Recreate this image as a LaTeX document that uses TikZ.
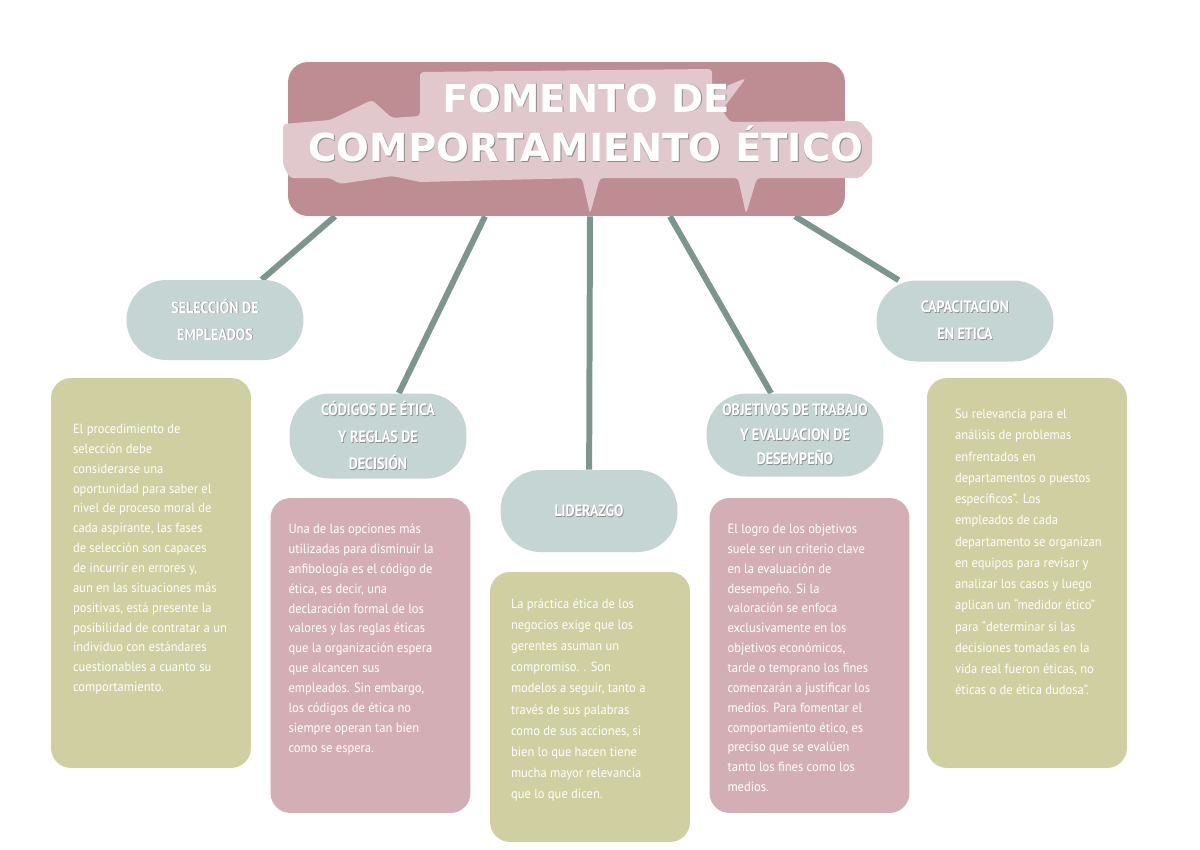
\documentclass[tikz,border=0pt]{standalone}
\usepackage{fontspec}
\setmainfont[FakeStretch=0.94]{PT Sans}
\newfontfamily\titlefont{DejaVu Sans}
\newfontfamily\labelfont[FakeStretch=0.86]{PT Sans}
\usetikzlibrary{positioning,backgrounds}
\definecolor{titlecol}{RGB}{190,140,147}
\definecolor{burstcol}{RGB}{225,200,204}
\definecolor{pillcol}{RGB}{197,213,212}
\definecolor{greencol}{RGB}{207,207,161}
\definecolor{pinkcol}{RGB}{211,175,181}
\definecolor{linecol}{RGB}{125,150,140}
\newcommand\sombra[1]{\leavevmode\rlap{\kern0.4pt\raisebox{-0.4pt}{\color{black!45}#1}}#1}
\tikzset{
	pill/.style={fill=pillcol,rounded corners=0.8cm,minimum width=3.54cm,minimum height=1.6cm,
		inner sep=0pt,align=center,text=white,font=\labelfont\bfseries\fontsize{9.3}{15.5}\selectfont},
	greenbox/.style={fill=greencol,rounded corners=0.4cm,minimum width=4cm,minimum height=7.8cm},
	pinkbox/.style={fill=pinkcol,rounded corners=0.4cm,minimum width=4cm,minimum height=6.3cm},
	bodytext/.style={text=white,align=left,inner sep=0pt,font=\fontsize{7.6}{11.3}\selectfont},
	conector/.style={linecol,line width=3.4pt}
}
\begin{document}
\begin{tikzpicture}[x=0.02cm,y=-0.02cm]
	\useasboundingbox (0,0) rectangle (1200,849);
	% title
	\node[fill=titlecol,rounded corners=0.4cm,minimum width=11.14cm,minimum height=3.08cm] (titulo) at (566.5,139) {};
	\fill[burstcol,rounded corners=2pt] (283,124)--(330,120)--(372,100)--(392,118)--(420,116)--(420,72)--(712,69)--(712,92)--(746,78)--(722,110)--(730,122)--(860,121)--(872,135)--(872,165)--(860,178)--(757,178)--(746,214)--(738,178)--(600,178)--(590,214)--(582,178)--(420,182)--(392,176)--(340,184)--(330,178)--(290,178)--(283,165)--cycle;
	\node[text=white,align=center,font=\titlefont\bfseries\fontsize{22}{28}\selectfont] (titulotxt) at (586,123)
	{\sombra{FOMENTO DE}\\\sombra{COMPORTAMIENTO ÉTICO}};
	% branches
	\node[pill] (sel) at (215,320) {\sombra{SELECCIÓN DE}\\\sombra{EMPLEADOS}};
	\node[pill,minimum height=1.7cm] (cod) at (378,436) {\sombra{CÓDIGOS DE ÉTICA}\\\sombra{Y REGLAS DE}\\\sombra{DECISIÓN}};
	\node[pill,minimum height=1.64cm] (lid) at (589,511) {\sombra{LIDERAZGO}};
	\node[pill,font=\labelfont\bfseries\fontsize{9.3}{14}\selectfont,minimum height=1.66cm] (obj) at (795,435) {\sombra{OBJETIVOS DE TRABAJO}\\\sombra{Y EVALUACION DE}\\\sombra{DESEMPEÑO}};
	\node[pill,minimum height=1.62cm] (cap) at (965,321) {\sombra{CAPACITACION}\\\sombra{EN ETICA}};
	% boxes
	\node[greenbox] (boxsel) at (151,573) {};
	\node[pinkbox] (boxcod) at (370.5,655.5) {};
	\node[greenbox,minimum height=5.4cm] (boxlid) at (590,707) {};
	\node[pinkbox] (boxobj) at (809.5,655.5) {};
	\node[greenbox] (boxcap) at (1027,573) {};
	\node[bodytext,below right=0.92cm and 0.44cm of boxsel.north west] (txtsel) {El procedimiento de\\selección debe\\considerarse una\\oportunidad para saber el\\nivel de proceso moral de\\cada aspirante, las fases\\de selección son capaces\\de incurrir en errores y,\\aun en las situaciones más\\positivas, está presente la\\posibilidad de contratar a un\\individuo con estándares\\cuestionables a cuanto su\\comportamiento.};
	\node[bodytext,below right=0.52cm and 0.36cm of boxcod.north west] (txtcod) {Una de las opciones más\\utilizadas para disminuir la\\anfibología es el código de\\ética, es decir, una\\declaración formal de los\\valores y las reglas éticas\\que la organización espera\\que alcancen sus\\empleados. Sin embargo,\\los códigos de ética no\\siempre operan tan bien\\como se espera.};
	\node[bodytext,below right=0.54cm and 0.42cm of boxlid.north west,font=\fontsize{7.6}{12}\selectfont] (txtlid) {La práctica ética de los\\negocios exige que los\\gerentes asuman un\\compromiso. . Son\\modelos a seguir, tanto a\\través de sus palabras\\como de sus acciones, si\\bien lo que hacen tiene\\mucha mayor relevancia\\que lo que dicen.};
	\node[bodytext,below right=0.52cm and 0.36cm of boxobj.north west] (txtobj) {El logro de los objetivos\\suele ser un criterio clave\\en la evaluación de\\desempeño. Si la\\valoración se enfoca\\exclusivamente en los\\objetivos económicos,\\tarde o temprano los fines\\comenzarán a justificar los\\medios. Para fomentar el\\comportamiento ético, es\\preciso que se evalúen\\tanto los fines como los\\medios.};
	\node[bodytext,below right=0.62cm and 0.56cm of boxcap.north west,font=\fontsize{7.6}{12.1}\selectfont] (txtcap) {Su relevancia para el\\análisis de problemas\\enfrentados en\\departamentos o puestos\\específicos”. Los\\empleados de cada\\departamento se organizan\\en equipos para revisar y\\analizar los casos y luego\\aplican un “medidor ético”\\para “determinar si las\\decisiones tomadas en la\\vida real fueron éticas, no\\éticas o de ética dudosa”.};
	% connectors
	\coordinate (t1) at ([xshift=-4.63cm]titulo.south);
	\coordinate (t2) at ([xshift=-1.63cm]titulo.south);
	\coordinate (t3) at ([xshift=0.47cm]titulo.south);
	\coordinate (t4) at ([xshift=2.07cm]titulo.south);
	\coordinate (t5) at ([xshift=4.57cm]titulo.south);
	\begin{scope}[on background layer]
		\fill[white] (0,0) rectangle (1200,849);
		\draw[conector] (t1) -- (sel);
		\draw[conector] (t2) -- (cod);
		\draw[conector] (t3) -- (lid);
		\draw[conector] (t4) -- (obj);
		\draw[conector] (t5) -- (cap);
	\end{scope}
\end{tikzpicture}
\end{document}
